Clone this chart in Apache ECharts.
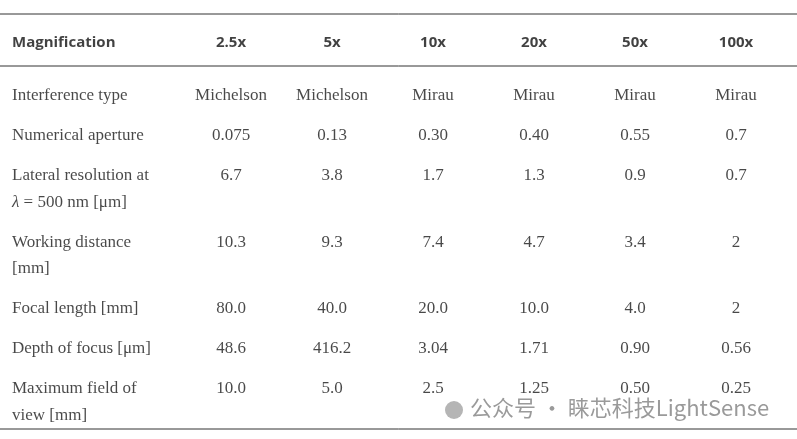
<!DOCTYPE html>
<html><head><meta charset="utf-8">
<script src="https://cdn.jsdelivr.net/npm/echarts@6/dist/echarts.min.js"></script>
<style>html,body{margin:0;padding:0;background:#fff}#c{width:797px;height:439px}</style>
</head><body><div id="c"></div>
<script>
const headers = ['Magnification','2.5x','5x','10x','20x','50x','100x'];
const rowLabels = [
  ['Interference type'],
  ['Numerical aperture'],
  ['Lateral resolution at','{i|λ} = 500 nm [μm]'],
  ['Working distance','[mm]'],
  ['Focal length [mm]'],
  ['Depth of focus [μm]'],
  ['Maximum field of','view [mm]']
];
const values = [
  ['Michelson','Michelson','Mirau','Mirau','Mirau','Mirau'],
  ['0.075','0.13','0.30','0.40','0.55','0.7'],
  ['6.7','3.8','1.7','1.3','0.9','0.7'],
  ['10.3','9.3','7.4','4.7','3.4','2'],
  ['80.0','40.0','20.0','10.0','4.0','2'],
  ['48.6','416.2','3.04','1.71','0.90','0.56'],
  ['10.0','5.0','2.5','1.25','0.50','0.25']
];
const rowStart = [4,7,10,15,20,23,26];
const lineStep = 2;
const lineSlots = Array.from({length:29},(_,i)=>'s'+i);

const headData = headers.map((h,i)=>[i,0,h]);
const labData = [], valData = [];
rowLabels.forEach((ls,r)=>{
  ls.forEach((t,k)=>labData.push([0,rowStart[r]+k*lineStep,t]));
  values[r].forEach((v,c)=>valData.push([c+1,rowStart[r],v]));
});
const serif = 'Liberation Serif';
const chart = echarts.init(document.getElementById('c'));
chart.setOption({
  animation:false,
  grid:{left:79.5,right:10.5,top:36,bottom:17.3},
  xAxis:{type:'category',data:headers.map((_,i)=>i),show:false},
  yAxis:{type:'category',data:lineSlots,inverse:true,show:false},
  graphic:[
    {type:'line',shape:{x1:0,y1:14,x2:797,y2:14},style:{stroke:'#333',lineWidth:1}},
    {type:'line',shape:{x1:0,y1:66,x2:797,y2:66},style:{stroke:'#333',lineWidth:1}},
    {type:'line',shape:{x1:0,y1:429,x2:797,y2:429},style:{stroke:'#333',lineWidth:1}},
    {type:'text',left:470,top:397,style:{text:'公众号 · 睐芯科技LightSense',fill:'#9a9a9a',font:'22px "Noto Sans CJK SC"'},z:10},
    {type:'circle',shape:{cx:454,cy:410,r:9},style:{fill:'#b5b5b5'}}
  ],
  series:[
    {type:'scatter',symbolSize:0,data:headData.slice(1),
     label:{show:true,position:'inside',formatter:p=>p.data[2],color:'#111',fontFamily:'Open Sans',fontWeight:'bold',fontSize:15}},
    {type:'scatter',symbolSize:0,data:headData.slice(0,1),
     label:{show:true,position:'inside',align:'left',offset:[-118,0],formatter:p=>p.data[2],color:'#111',fontFamily:'Open Sans',fontWeight:'bold',fontSize:15}},
    {type:'scatter',symbolSize:0,data:labData,
     label:{show:true,position:'inside',align:'left',offset:[-118,0],formatter:p=>p.data[2],color:'#1a1a1a',fontFamily:serif,fontSize:17,
       rich:{i:{fontStyle:'italic',fontFamily:serif,fontSize:17,color:'#1a1a1a'}}}},
    {type:'scatter',symbolSize:0,data:valData,
     label:{show:true,position:'inside',formatter:p=>p.data[2],color:'#1a1a1a',fontFamily:serif,fontSize:17}}
  ]
});
</script></body></html>
